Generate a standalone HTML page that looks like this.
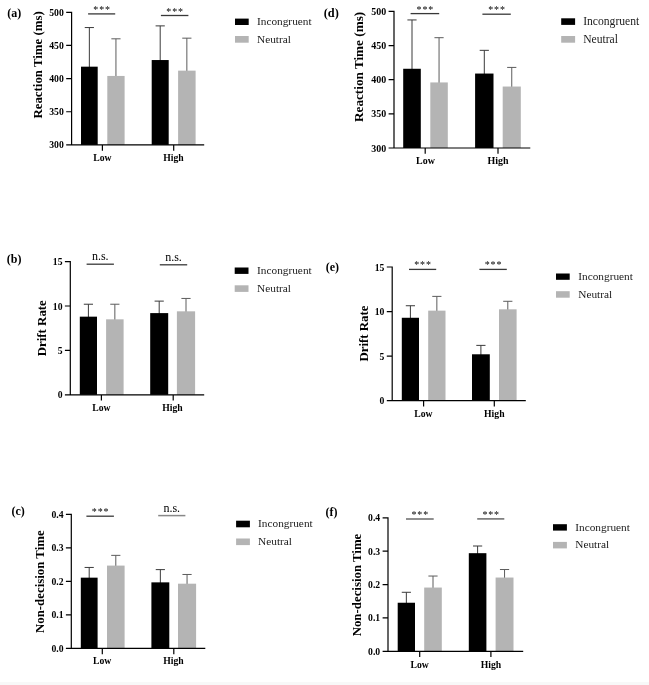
<!DOCTYPE html>
<html lang="en">
<head>
<meta charset="utf-8">
<title>Figure</title>
<style>
html,body{margin:0;padding:0;background:#fff;}
body{width:649px;height:685px;overflow:hidden;position:relative;}
svg{display:block;position:absolute;left:0;top:0;}
text{font-family:'Liberation Serif', serif;fill:#000;}
.tag{font-size:12px;font-weight:bold;}
.yl{font-size:13px;font-weight:bold;}
.tk{font-size:9.7px;font-weight:bold;}
.xl{font-size:9.7px;font-weight:bold;}
.lg{font-size:11.3px;fill:#1a1a1a;}
.st{font-size:10px;letter-spacing:0.8px;}
.ns{font-size:12px;}
.foot{position:absolute;left:0;top:682px;width:649px;height:3px;background:#f8f8f8;}
</style>
</head>
<body>
<svg width="649" height="685" viewBox="0 0 649 685">
<rect x="0" y="0" width="649" height="685" fill="#fff"/>
<g>
<text class="tag" x="7.3" y="16.5">(a)</text>
<text class="yl" style="font-size:12.85px" transform="translate(41.5 64.9) rotate(-90)" text-anchor="middle">Reaction Time (ms)</text>
<path d="M89.35 67.67V27.55M84.75 27.55H93.95" stroke="#3a3a3a" stroke-width="1" fill="none"/>
<rect x="81" y="66.67" width="16.7" height="78.23" fill="#000"/>
<path d="M115.95 76.95V38.82M111.35 38.82H120.55" stroke="#5c5c5c" stroke-width="1" fill="none"/>
<rect x="107.3" y="75.95" width="17.3" height="68.95" fill="#b4b4b4"/>
<path d="M160.2 61.04V25.89M155.6 25.89H164.8" stroke="#3a3a3a" stroke-width="1" fill="none"/>
<rect x="151.7" y="60.04" width="17" height="84.86" fill="#000"/>
<path d="M186.85 71.64V38.16M182.25 38.16H191.45" stroke="#5c5c5c" stroke-width="1" fill="none"/>
<rect x="178.1" y="70.64" width="17.5" height="74.26" fill="#b4b4b4"/>
<path d="M71.6 11.7V144.9H204.2M66.2 144.9H71.6M66.2 111.75H71.6M66.2 78.6H71.6M66.2 45.45H71.6M66.2 12.3H71.6M102.4 144.9V150.7M173.7 144.9V150.7" stroke="#000" stroke-width="1.2" fill="none"/>
<text class="tk" x="63.8" y="148.4" text-anchor="end">300</text>
<text class="tk" x="63.8" y="115.25" text-anchor="end">350</text>
<text class="tk" x="63.8" y="82.1" text-anchor="end">400</text>
<text class="tk" x="63.8" y="48.95" text-anchor="end">450</text>
<text class="tk" x="63.8" y="15.8" text-anchor="end">500</text>
<text class="xl" x="102.4" y="161" text-anchor="middle">Low</text>
<text class="xl" x="173.4" y="161" text-anchor="middle">High</text>
<path d="M88.1 13.9H115.2" stroke="#383838" stroke-width="1.3" fill="none"/>
<text class="st" x="102.05" y="12.9" text-anchor="middle" fill="#555">***</text>
<path d="M160.9 15.5H188.4" stroke="#383838" stroke-width="1.3" fill="none"/>
<text class="st" x="175.05" y="14.5" text-anchor="middle" fill="#555">***</text>
<rect x="235" y="18.6" width="13.7" height="6.4" fill="#000"/>
<rect x="235" y="36" width="13.7" height="6.7" fill="#b4b4b4"/>
<text class="lg" x="257" y="25">Incongruent</text>
<text class="lg" x="257" y="43">Neutral</text>
</g>
<g>
<text class="tag" style="font-size:12.32px" x="323.7" y="16.8">(d)</text>
<text class="yl" style="font-size:13.2px" transform="translate(363.3 66.9) rotate(-90)" text-anchor="middle">Reaction Time (ms)</text>
<path d="M412 69.77V19.94M407.4 19.94H416.6" stroke="#3a3a3a" stroke-width="1" fill="none"/>
<rect x="403.2" y="68.77" width="17.6" height="79.23" fill="#000"/>
<path d="M439.05 83.43V37.7M434.45 37.7H443.65" stroke="#5c5c5c" stroke-width="1" fill="none"/>
<rect x="430.3" y="82.43" width="17.5" height="65.57" fill="#b4b4b4"/>
<path d="M484.3 74.55V50.33M479.7 50.33H488.9" stroke="#3a3a3a" stroke-width="1" fill="none"/>
<rect x="475.1" y="73.55" width="18.4" height="74.45" fill="#000"/>
<path d="M511.75 87.53V67.41M507.15 67.41H516.35" stroke="#5c5c5c" stroke-width="1" fill="none"/>
<rect x="502.7" y="86.53" width="18.1" height="61.47" fill="#b4b4b4"/>
<path d="M394 10.8V148H530.3M388.6 148H394M388.6 113.85H394M388.6 79.7H394M388.6 45.55H394M388.6 11.4H394M425.2 148V153.8M498 148V153.8" stroke="#000" stroke-width="1.2" fill="none"/>
<text class="tk" style="font-size:9.96px" x="386.2" y="151.5" text-anchor="end">300</text>
<text class="tk" style="font-size:9.96px" x="386.2" y="117.35" text-anchor="end">350</text>
<text class="tk" style="font-size:9.96px" x="386.2" y="83.2" text-anchor="end">400</text>
<text class="tk" style="font-size:9.96px" x="386.2" y="49.05" text-anchor="end">450</text>
<text class="tk" style="font-size:9.96px" x="386.2" y="14.9" text-anchor="end">500</text>
<text class="xl" style="font-size:9.96px" x="425.5" y="164.2" text-anchor="middle">Low</text>
<text class="xl" style="font-size:9.96px" x="498" y="164.2" text-anchor="middle">High</text>
<path d="M410.6 13.6H439.2" stroke="#383838" stroke-width="1.3" fill="none"/>
<text class="st" x="425.3" y="12.6" text-anchor="middle" fill="#555">***</text>
<path d="M482.4 14.2H510.8" stroke="#383838" stroke-width="1.3" fill="none"/>
<text class="st" x="497" y="13.2" text-anchor="middle" fill="#555">***</text>
<rect x="561.2" y="18.3" width="13.9" height="6.6" fill="#000"/>
<rect x="561.2" y="36" width="13.9" height="6.7" fill="#b4b4b4"/>
<text class="lg" style="font-size:11.61px" x="583.2" y="24.9">Incongruent</text>
<text class="lg" style="font-size:11.61px" x="583.2" y="42.7">Neutral</text>
</g>
<g>
<text class="tag" x="6.8" y="263.1">(b)</text>
<text class="yl" style="font-size:12.85px" transform="translate(46 328.2) rotate(-90)" text-anchor="middle">Drift Rate</text>
<path d="M88.4 317.66V304.22M83.8 304.22H93" stroke="#3a3a3a" stroke-width="1" fill="none"/>
<rect x="79.8" y="316.66" width="17.2" height="78.14" fill="#000"/>
<path d="M114.85 320.32V304.22M110.25 304.22H119.45" stroke="#5c5c5c" stroke-width="1" fill="none"/>
<rect x="106.1" y="319.32" width="17.5" height="75.48" fill="#b4b4b4"/>
<path d="M159.2 314.1V301.12M154.6 301.12H163.8" stroke="#3a3a3a" stroke-width="1" fill="none"/>
<rect x="150.2" y="313.1" width="18" height="81.7" fill="#000"/>
<path d="M186 312.33V298.45M181.4 298.45H190.6" stroke="#5c5c5c" stroke-width="1" fill="none"/>
<rect x="176.9" y="311.33" width="18.2" height="83.47" fill="#b4b4b4"/>
<path d="M70.3 261V394.8H204.2M64.9 394.8H70.3M64.9 350.4H70.3M64.9 306H70.3M64.9 261.6H70.3M101.4 394.8V400.6M173.2 394.8V400.6" stroke="#000" stroke-width="1.2" fill="none"/>
<text class="tk" x="62.5" y="398.3" text-anchor="end">0</text>
<text class="tk" x="62.5" y="353.9" text-anchor="end">5</text>
<text class="tk" x="62.5" y="309.5" text-anchor="end">10</text>
<text class="tk" x="62.5" y="265.1" text-anchor="end">15</text>
<text class="xl" x="101.4" y="410.8" text-anchor="middle">Low</text>
<text class="xl" x="172.5" y="410.8" text-anchor="middle">High</text>
<path d="M86.6 264.2H113.9" stroke="#383838" stroke-width="1.3" fill="none"/>
<text class="ns" x="100.25" y="260.1" text-anchor="middle" fill="#333">n.s.</text>
<path d="M159.8 264.8H187.2" stroke="#383838" stroke-width="1.3" fill="none"/>
<text class="ns" x="173.5" y="260.7" text-anchor="middle" fill="#333">n.s.</text>
<rect x="234.7" y="267.5" width="13.8" height="6.4" fill="#000"/>
<rect x="234.7" y="285.3" width="13.8" height="6.6" fill="#b4b4b4"/>
<text class="lg" x="257.1" y="273.9">Incongruent</text>
<text class="lg" x="257.1" y="291.9">Neutral</text>
</g>
<g>
<text class="tag" x="325.8" y="271">(e)</text>
<text class="yl" style="font-size:12.85px" transform="translate(368 333.5) rotate(-90)" text-anchor="middle">Drift Rate</text>
<path d="M410.4 318.77V305.74M405.8 305.74H415" stroke="#3a3a3a" stroke-width="1" fill="none"/>
<rect x="401.8" y="317.77" width="17.2" height="82.83" fill="#000"/>
<path d="M436.85 311.64V296.39M432.25 296.39H441.45" stroke="#5c5c5c" stroke-width="1" fill="none"/>
<rect x="428.2" y="310.64" width="17.3" height="89.96" fill="#b4b4b4"/>
<path d="M480.9 355.29V345.38M476.3 345.38H485.5" stroke="#3a3a3a" stroke-width="1" fill="none"/>
<rect x="472" y="354.29" width="17.8" height="46.31" fill="#000"/>
<path d="M507.8 310.31V301.29M503.2 301.29H512.4" stroke="#5c5c5c" stroke-width="1" fill="none"/>
<rect x="499" y="309.31" width="17.6" height="91.29" fill="#b4b4b4"/>
<path d="M392.2 266.4V400.6H525.8M386.8 400.6H392.2M386.8 356.07H392.2M386.8 311.53H392.2M386.8 267H392.2M423.6 400.6V406.4M494.3 400.6V406.4" stroke="#000" stroke-width="1.2" fill="none"/>
<text class="tk" x="384.4" y="404.1" text-anchor="end">0</text>
<text class="tk" x="384.4" y="359.57" text-anchor="end">5</text>
<text class="tk" x="384.4" y="315.03" text-anchor="end">10</text>
<text class="tk" x="384.4" y="270.5" text-anchor="end">15</text>
<text class="xl" x="423.4" y="416.8" text-anchor="middle">Low</text>
<text class="xl" x="494.3" y="416.8" text-anchor="middle">High</text>
<path d="M409 269.4H436.2" stroke="#383838" stroke-width="1.3" fill="none"/>
<text class="st" x="423" y="268.4" text-anchor="middle" fill="#555">***</text>
<path d="M479.4 269.4H506.8" stroke="#383838" stroke-width="1.3" fill="none"/>
<text class="st" x="493.5" y="268.4" text-anchor="middle" fill="#555">***</text>
<rect x="556" y="273.5" width="13.7" height="6.3" fill="#000"/>
<rect x="556" y="291.2" width="13.7" height="6.5" fill="#b4b4b4"/>
<text class="lg" x="578.3" y="279.8">Incongruent</text>
<text class="lg" x="578.3" y="297.7">Neutral</text>
</g>
<g>
<text class="tag" x="11.5" y="515">(c)</text>
<text class="yl" style="font-size:12.85px" transform="translate(44.3 581.7) rotate(-90)" text-anchor="middle">Non-decision Time</text>
<path d="M89.2 578.66V567.44M84.6 567.44H93.8" stroke="#3a3a3a" stroke-width="1" fill="none"/>
<rect x="80.8" y="577.66" width="16.8" height="70.74" fill="#000"/>
<path d="M115.8 566.59V555.37M111.2 555.37H120.4" stroke="#5c5c5c" stroke-width="1" fill="none"/>
<rect x="107" y="565.59" width="17.6" height="82.81" fill="#b4b4b4"/>
<path d="M160.35 583.36V569.62M155.75 569.62H164.95" stroke="#3a3a3a" stroke-width="1" fill="none"/>
<rect x="151.4" y="582.36" width="17.9" height="66.04" fill="#000"/>
<path d="M187.05 584.7V574.48M182.45 574.48H191.65" stroke="#5c5c5c" stroke-width="1" fill="none"/>
<rect x="178" y="583.7" width="18.1" height="64.7" fill="#b4b4b4"/>
<path d="M71.3 513.7V648.4H205.3M65.9 648.4H71.3M65.9 614.88H71.3M65.9 581.35H71.3M65.9 547.82H71.3M65.9 514.3H71.3M102.3 648.4V654.2M173.8 648.4V654.2" stroke="#000" stroke-width="1.2" fill="none"/>
<text class="tk" x="63.5" y="651.9" text-anchor="end">0.0</text>
<text class="tk" x="63.5" y="618.38" text-anchor="end">0.1</text>
<text class="tk" x="63.5" y="584.85" text-anchor="end">0.2</text>
<text class="tk" x="63.5" y="551.32" text-anchor="end">0.3</text>
<text class="tk" x="63.5" y="517.8" text-anchor="end">0.4</text>
<text class="xl" x="102.2" y="664.2" text-anchor="middle">Low</text>
<text class="xl" x="173.5" y="664.2" text-anchor="middle">High</text>
<path d="M86.4 516.2H113.9" stroke="#383838" stroke-width="1.3" fill="none"/>
<text class="st" x="100.55" y="515.2" text-anchor="middle" fill="#555">***</text>
<path d="M158.2 515.6H185.4" stroke="#888" stroke-width="1.5" fill="none"/>
<text class="ns" x="171.8" y="511.5" text-anchor="middle" fill="#333">n.s.</text>
<rect x="236.1" y="520.7" width="13.8" height="6.6" fill="#000"/>
<rect x="236.1" y="538.5" width="13.8" height="6.6" fill="#b4b4b4"/>
<text class="lg" x="258.1" y="527.3">Incongruent</text>
<text class="lg" x="258.1" y="545.1">Neutral</text>
</g>
<g>
<text class="tag" x="325.4" y="516.4">(f)</text>
<text class="yl" style="font-size:12.85px" transform="translate(361 585) rotate(-90)" text-anchor="middle">Non-decision Time</text>
<path d="M406.35 603.74V592.29M401.75 592.29H410.95" stroke="#3a3a3a" stroke-width="1" fill="none"/>
<rect x="397.7" y="602.74" width="17.3" height="48.56" fill="#000"/>
<path d="M433 588.55V576.04M428.4 576.04H437.6" stroke="#5c5c5c" stroke-width="1" fill="none"/>
<rect x="424.2" y="587.55" width="17.6" height="63.75" fill="#b4b4b4"/>
<path d="M477.6 554.18V546M473 546H482.2" stroke="#3a3a3a" stroke-width="1" fill="none"/>
<rect x="468.8" y="553.18" width="17.6" height="98.12" fill="#000"/>
<path d="M504.55 578.54V569.53M499.95 569.53H509.15" stroke="#5c5c5c" stroke-width="1" fill="none"/>
<rect x="495.6" y="577.54" width="17.9" height="73.76" fill="#b4b4b4"/>
<path d="M388 517.2V651.3H523.2M382.6 651.3H388M382.6 617.92H388M382.6 584.55H388M382.6 551.17H388M382.6 517.8H388M419.7 651.3V657.1M490.9 651.3V657.1" stroke="#000" stroke-width="1.2" fill="none"/>
<text class="tk" x="380.2" y="654.8" text-anchor="end">0.0</text>
<text class="tk" x="380.2" y="621.42" text-anchor="end">0.1</text>
<text class="tk" x="380.2" y="588.05" text-anchor="end">0.2</text>
<text class="tk" x="380.2" y="554.67" text-anchor="end">0.3</text>
<text class="tk" x="380.2" y="521.3" text-anchor="end">0.4</text>
<text class="xl" x="419.7" y="667.6" text-anchor="middle">Low</text>
<text class="xl" x="491" y="667.6" text-anchor="middle">High</text>
<path d="M406 519H433.7" stroke="#6a6a6a" stroke-width="1.5" fill="none"/>
<text class="st" x="420.25" y="518" text-anchor="middle" fill="#555">***</text>
<path d="M477.2 518.9H504.3" stroke="#6a6a6a" stroke-width="1.5" fill="none"/>
<text class="st" x="491.15" y="517.9" text-anchor="middle" fill="#555">***</text>
<rect x="553" y="524.2" width="13.9" height="6.4" fill="#000"/>
<rect x="553" y="541.9" width="13.9" height="6.5" fill="#b4b4b4"/>
<text class="lg" x="575.3" y="530.6">Incongruent</text>
<text class="lg" x="575.3" y="548.4">Neutral</text>
</g>
</svg>
<div class="foot"></div>
</body>
</html>
